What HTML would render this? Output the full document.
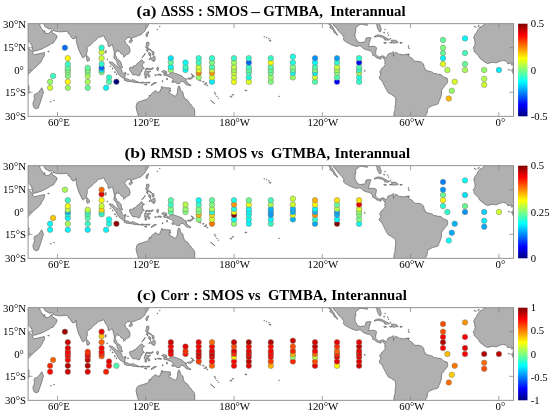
<!DOCTYPE html>
<html><head><meta charset="utf-8"><title>SMOS vs GTMBA</title>
<style>
html,body{margin:0;padding:0;background:#fff}
svg{display:block}
text{font-family:"Liberation Serif","Times New Roman",serif;fill:#000}
circle{stroke:#7a7a6a;stroke-width:0.5}
</style></head><body>
<svg width="550" height="416" viewBox="0 0 550 416">
<defs>
<linearGradient id="jet" x1="0" y1="0" x2="0" y2="1"><stop offset="0.0000" stop-color="#800000"/><stop offset="0.0312" stop-color="#9f0000"/><stop offset="0.0625" stop-color="#bf0000"/><stop offset="0.0938" stop-color="#df0000"/><stop offset="0.1250" stop-color="#ff0000"/><stop offset="0.1562" stop-color="#ff2000"/><stop offset="0.1875" stop-color="#ff4000"/><stop offset="0.2188" stop-color="#ff6000"/><stop offset="0.2500" stop-color="#ff8000"/><stop offset="0.2812" stop-color="#ff9f00"/><stop offset="0.3125" stop-color="#ffbf00"/><stop offset="0.3438" stop-color="#ffdf00"/><stop offset="0.3750" stop-color="#ffff00"/><stop offset="0.4062" stop-color="#dfff20"/><stop offset="0.4375" stop-color="#bfff40"/><stop offset="0.4688" stop-color="#9fff60"/><stop offset="0.5000" stop-color="#80ff80"/><stop offset="0.5312" stop-color="#60ff9f"/><stop offset="0.5625" stop-color="#40ffbf"/><stop offset="0.5938" stop-color="#20ffdf"/><stop offset="0.6250" stop-color="#00ffff"/><stop offset="0.6562" stop-color="#00dfff"/><stop offset="0.6875" stop-color="#00bfff"/><stop offset="0.7188" stop-color="#009fff"/><stop offset="0.7500" stop-color="#0080ff"/><stop offset="0.7812" stop-color="#0060ff"/><stop offset="0.8125" stop-color="#0040ff"/><stop offset="0.8438" stop-color="#0020ff"/><stop offset="0.8750" stop-color="#0000ff"/><stop offset="0.9062" stop-color="#0000df"/><stop offset="0.9375" stop-color="#0000bf"/><stop offset="0.9688" stop-color="#00009f"/><stop offset="1.0000" stop-color="#000080"/></linearGradient>
<clipPath id="mapclip"><rect x="28.08" y="23.70" width="485.50" height="92.60"/></clipPath>
<g id="land" clip-path="url(#mapclip)" fill="#b0b0b0" stroke="#5a5a5a" stroke-width="0.65" stroke-linejoin="round">
<path d="M25.1,20.3 L39.7,20.3 L39.7,23.7 L40.1,26.1 L41.3,28.4 L42.6,29.7 L43.1,31.0 L44.0,32.3 L44.3,30.4 L45.1,32.0 L44.9,33.1 L46.5,33.5 L48.7,33.3 L50.9,31.2 L52.1,29.9 L52.2,32.0 L52.8,33.3 L55.3,34.3 L57.2,36.0 L56.0,39.2 L54.3,41.5 L53.4,43.1 L50.9,43.8 L50.1,44.6 L46.0,46.8 L41.3,49.2 L35.4,51.0 L33.2,51.2 L32.8,50.0 L32.2,47.7 L31.8,45.4 L30.3,43.1 L28.8,41.5 L28.1,41.1 L25.1,41.1Z"/>
<path d="M25.1,47.2 L28.1,47.7 L29.8,49.2 L31.6,50.4 L32.6,51.3 L32.9,52.5 L32.2,53.0 L32.9,53.3 L34.0,54.5 L35.4,54.6 L37.6,54.0 L39.8,53.4 L42.1,53.1 L44.4,52.4 L44.6,54.5 L44.0,56.3 L42.8,58.2 L41.3,61.2 L39.8,63.4 L37.6,65.6 L35.4,67.4 L33.2,69.3 L31.0,71.5 L29.8,72.9 L28.5,74.0 L28.1,74.7 L25.1,74.7Z"/>
<path d="M25.1,85.2 L28.1,85.2 L29.0,86.3 L29.0,90.8 L29.3,92.3 L28.4,93.9 L28.1,94.3 L25.1,94.3Z"/>
<path d="M41.8,87.8 L42.8,90.0 L43.5,93.1 L42.5,94.6 L42.1,96.9 L41.3,99.3 L40.3,102.4 L39.1,105.6 L38.4,108.0 L36.2,108.8 L34.3,108.0 L33.2,105.6 L32.9,103.2 L34.0,100.8 L34.4,98.5 L34.0,96.2 L34.7,94.2 L36.9,93.4 L38.7,92.0 L39.8,90.5 L41.0,88.5Z"/>
<path d="M40.7,20.3 L41.2,23.2 L43.1,23.4 L44.3,25.1 L45.4,27.1 L46.9,27.7 L49.0,29.1 L50.9,29.1 L52.4,28.6 L53.2,29.4 L53.5,30.7 L56.0,31.3 L59.7,31.8 L62.7,31.7 L64.9,31.5 L67.1,31.3 L67.8,32.3 L68.5,33.9 L69.7,34.4 L71.0,36.2 L70.7,36.5 L72.2,38.4 L73.7,38.9 L75.5,37.9 L76.0,36.5 L76.3,38.1 L76.3,40.0 L76.3,41.5 L77.1,44.6 L77.8,46.9 L78.8,50.0 L79.9,52.2 L81.3,55.2 L82.2,57.2 L83.2,58.0 L84.3,57.0 L85.5,56.3 L86.6,54.8 L86.6,53.0 L87.4,50.6 L87.1,47.7 L88.1,46.5 L90.3,45.2 L92.1,43.4 L94.3,41.1 L96.5,39.6 L97.2,38.4 L98.7,37.3 L100.2,37.1 L102.4,36.3 L103.8,36.0 L104.3,36.3 L105.0,38.7 L106.1,40.3 L107.5,42.3 L108.1,44.6 L108.0,46.1 L109.4,46.5 L111.2,45.4 L112.2,44.6 L112.8,46.1 L113.1,47.7 L113.7,50.0 L114.3,52.2 L114.3,54.5 L113.9,56.7 L113.9,58.2 L114.9,58.9 L115.9,60.0 L116.8,61.2 L116.9,62.6 L117.5,64.1 L118.3,65.6 L119.0,66.5 L120.0,67.1 L121.4,67.9 L122.4,67.9 L122.5,67.1 L121.5,65.6 L121.4,63.8 L120.9,62.2 L119.7,60.9 L118.9,60.0 L117.8,59.7 L117.1,58.9 L116.6,57.4 L116.2,56.3 L115.3,55.2 L115.2,53.7 L116.1,52.2 L116.4,50.4 L117.1,50.0 L117.8,50.3 L117.8,51.3 L119.3,51.6 L120.5,52.5 L121.2,54.0 L122.7,54.5 L123.4,54.9 L123.7,56.7 L123.4,57.3 L124.4,56.7 L125.9,55.5 L126.4,54.6 L127.4,54.3 L129.3,53.3 L130.0,51.5 L130.0,50.0 L129.6,48.0 L129.2,46.9 L128.4,45.8 L127.1,44.6 L125.9,43.4 L125.2,41.8 L124.7,40.7 L125.9,39.5 L126.7,38.4 L128.1,37.4 L129.6,37.4 L130.5,37.6 L130.8,39.3 L131.5,39.5 L131.8,38.1 L133.3,37.4 L135.5,36.8 L136.9,36.2 L138.4,35.5 L140.6,34.9 L142.1,33.6 L143.6,32.3 L144.7,31.2 L145.5,29.5 L146.5,27.9 L147.7,26.6 L148.4,24.9 L148.7,23.7 L148.7,20.3Z"/>
<path d="M129.2,41.2 L130.3,40.0 L132.1,39.8 L132.5,40.6 L131.7,42.0 L130.3,42.8 L129.2,42.3Z"/>
<path d="M86.8,55.5 L87.4,56.0 L88.7,57.4 L89.6,58.9 L89.4,60.4 L88.4,61.0 L87.2,61.2 L86.8,60.0 L86.6,58.2Z"/>
<path d="M148.0,31.5 L148.7,32.0 L148.1,33.6 L147.2,36.0 L147.0,37.0 L146.2,36.0 L145.9,34.4 L147.0,32.5Z"/>
<path d="M109.4,61.7 L111.2,62.2 L112.7,62.3 L113.9,63.8 L115.2,64.8 L116.8,66.2 L118.3,67.1 L119.6,68.1 L120.8,68.8 L121.8,70.0 L121.9,71.5 L123.0,72.6 L123.7,73.4 L125.2,74.4 L125.0,76.2 L124.9,78.5 L124.0,78.5 L123.0,78.1 L121.5,77.1 L119.7,75.7 L118.6,74.1 L117.5,72.9 L116.8,71.3 L116.1,70.0 L114.9,68.5 L114.4,67.4 L113.1,66.3 L112.2,65.1 L110.9,64.3 L109.7,62.9Z"/>
<path d="M124.0,80.0 L125.2,78.7 L126.7,78.7 L128.6,79.3 L129.3,80.0 L131.8,80.2 L132.4,79.4 L133.3,79.9 L134.9,80.2 L135.5,81.2 L137.5,81.5 L137.7,82.8 L136.2,82.4 L134.7,82.4 L132.5,82.1 L130.3,81.4 L128.9,81.5 L127.4,81.4 L125.9,80.9Z"/>
<path d="M137.7,82.0 L139.4,82.3 L138.7,83.0 L137.8,82.6Z"/>
<path d="M139.9,82.3 L140.9,82.4 L140.6,83.1 L139.9,83.0Z"/>
<path d="M141.1,82.4 L142.5,82.0 L143.3,82.3 L144.5,82.3 L144.3,83.0 L142.8,83.1 L141.4,83.3Z"/>
<path d="M145.5,82.4 L147.2,82.4 L149.9,82.1 L150.2,82.4 L149.2,83.0 L147.2,83.1 L145.8,83.0Z"/>
<path d="M144.3,84.0 L145.8,83.9 L147.0,84.8 L146.1,85.2 L144.6,84.5Z"/>
<path d="M150.9,85.2 L152.4,83.7 L153.9,82.8 L156.1,82.4 L156.5,82.6 L155.3,83.4 L153.6,84.3 L152.1,85.2 L151.1,85.4Z"/>
<path d="M129.6,67.8 L130.5,67.1 L131.5,67.5 L132.8,67.8 L133.0,66.3 L135.2,65.6 L136.5,64.6 L137.7,62.9 L139.2,62.2 L140.2,60.7 L141.1,59.7 L142.4,60.4 L142.4,61.3 L144.6,62.2 L143.1,63.4 L142.2,64.1 L142.5,65.6 L142.8,66.8 L144.3,68.5 L142.8,68.8 L142.1,70.0 L142.0,71.2 L140.8,72.2 L140.3,73.7 L139.9,75.3 L138.0,76.0 L136.9,75.0 L135.5,74.7 L134.0,75.0 L132.5,74.4 L131.4,72.9 L131.1,71.8 L129.9,70.7 L129.6,69.3Z"/>
<path d="M145.8,68.8 L147.0,68.1 L148.7,68.5 L150.9,68.7 L152.8,67.6 L153.4,67.9 L152.4,69.3 L150.6,69.6 L148.0,69.3 L146.2,69.4 L145.9,70.7 L147.0,71.9 L148.0,71.3 L149.5,71.2 L150.8,71.3 L150.2,71.9 L148.4,72.6 L148.0,72.9 L149.0,74.4 L149.9,75.9 L150.0,76.6 L148.7,77.1 L148.0,76.6 L148.1,75.9 L147.2,74.4 L147.1,74.0 L146.2,74.4 L146.4,75.9 L146.4,78.1 L145.0,78.1 L145.0,76.6 L145.0,75.2 L144.0,74.1 L144.6,72.9 L144.7,71.8 L145.5,70.3Z"/>
<path d="M146.7,42.3 L147.2,42.1 L149.0,42.5 L149.0,44.6 L148.1,46.1 L148.0,47.7 L148.3,48.9 L149.5,48.9 L150.6,49.5 L151.7,50.7 L151.8,51.3 L150.9,50.9 L149.9,50.0 L148.4,49.7 L147.1,49.7 L146.7,48.7 L147.1,48.3 L146.2,48.0 L145.6,46.5 L146.2,45.8 L146.4,43.8Z"/>
<path d="M146.4,50.1 L147.5,50.1 L148.0,51.5 L147.4,51.9 L147.0,51.2Z"/>
<path d="M152.1,51.5 L153.6,51.5 L154.2,53.4 L153.4,54.9 L152.8,55.2 L152.4,53.9 L152.2,53.0Z"/>
<path d="M148.7,52.5 L150.3,53.0 L150.9,54.5 L150.5,56.6 L149.6,56.0 L149.3,54.5 L148.7,54.5 L148.6,53.0Z"/>
<path d="M148.9,59.8 L149.5,58.5 L150.6,57.4 L151.4,57.9 L152.4,57.3 L153.6,56.7 L153.9,55.5 L155.0,56.7 L155.3,58.9 L154.9,60.7 L154.0,61.2 L153.7,61.7 L153.6,60.4 L152.4,60.9 L151.7,60.0 L152.0,59.1 L150.8,59.1 L149.9,59.2Z"/>
<path d="M141.7,57.6 L142.8,56.4 L144.3,54.6 L145.2,53.3 L144.9,54.5 L143.6,56.3 L142.1,57.6Z"/>
<path d="M156.7,68.5 L157.5,66.9 L158.4,67.8 L158.6,69.3 L157.5,69.4 L158.1,71.2 L157.3,70.4 L156.8,69.6Z"/>
<path d="M157.5,74.4 L159.8,74.1 L161.7,74.7 L161.2,75.4 L159.0,75.0 L157.7,75.0Z"/>
<path d="M154.8,74.7 L156.2,74.7 L156.4,75.4 L155.0,75.6Z"/>
<path d="M162.0,71.2 L164.0,70.6 L165.6,71.0 L166.7,71.5 L166.7,73.4 L167.4,74.7 L168.6,74.9 L169.8,73.4 L171.5,72.4 L173.4,72.8 L175.2,73.4 L177.1,74.0 L178.9,74.7 L181.1,75.6 L182.6,76.5 L183.7,77.8 L185.2,78.7 L186.2,78.8 L186.8,79.9 L185.8,80.2 L185.9,81.1 L187.3,82.1 L188.1,83.3 L189.6,84.5 L191.1,85.2 L190.2,85.8 L188.4,85.2 L186.7,84.9 L185.2,83.7 L184.0,82.1 L182.3,81.4 L181.1,81.5 L180.3,82.3 L180.1,83.3 L178.1,83.6 L176.7,83.4 L175.2,82.1 L173.4,82.3 L172.3,82.4 L171.8,81.1 L173.4,80.3 L173.0,78.8 L171.5,77.7 L169.3,76.8 L167.1,75.9 L165.6,75.4 L164.6,75.9 L163.4,74.3 L164.9,73.7 L166.1,73.2 L164.2,73.2 L162.7,72.2 L161.8,71.9Z"/>
<path d="M187.4,78.3 L188.7,78.1 L190.2,78.1 L191.4,77.4 L192.1,76.2 L193.3,76.2 L193.1,77.4 L192.1,78.3 L191.1,79.1 L189.2,79.3 L187.7,78.8Z"/>
<path d="M191.1,73.8 L192.9,74.9 L194.3,76.6 L194.0,76.9 L192.6,75.2 L191.1,74.3Z"/>
<path d="M196.8,78.1 L198.4,79.6 L198.6,80.2 L197.3,79.3Z"/>
<path d="M138.3,119.7 L138.3,116.3 L137.8,113.8 L136.7,110.5 L136.1,107.2 L136.5,104.5 L137.2,102.9 L139.2,101.6 L141.4,101.0 L144.3,100.0 L147.2,99.3 L149.2,96.9 L149.0,95.4 L150.9,95.8 L151.1,94.3 L152.4,93.1 L153.9,91.6 L155.8,90.7 L157.5,92.0 L159.8,92.2 L160.2,90.0 L161.4,88.4 L163.1,88.1 L164.3,87.3 L166.4,87.8 L168.6,87.8 L170.5,88.1 L170.1,90.0 L169.0,91.6 L169.3,93.1 L171.5,94.2 L173.7,95.4 L175.2,96.3 L176.7,94.6 L177.4,92.3 L177.6,90.0 L177.8,88.2 L178.4,86.3 L179.0,85.8 L180.1,87.5 L180.5,90.0 L181.8,91.3 L183.0,92.3 L183.3,94.6 L184.0,96.9 L184.8,98.5 L186.7,99.6 L188.1,100.7 L189.2,102.9 L190.6,104.0 L191.4,105.6 L193.6,107.7 L194.6,109.6 L194.8,112.9 L194.6,116.3 L194.6,119.7Z"/>
<path d="M160.9,86.9 L162.7,86.7 L162.5,87.5 L161.2,87.5Z"/>
<path d="M169.9,90.5 L170.6,90.5 L170.6,91.3 L169.9,91.3Z"/>
<path d="M166.7,78.1 L167.5,78.5 L167.3,80.0 L166.5,79.6Z"/>
<path d="M162.4,80.6 L163.1,80.8 L162.8,81.8 L162.1,81.7Z"/>
<path d="M326.7,20.3 L328.2,22.8 L328.5,23.7 L329.8,25.4 L330.9,26.6 L329.5,27.3 L330.7,28.2 L331.9,29.2 L333.6,30.4 L333.8,32.3 L335.6,33.6 L336.6,34.7 L337.2,35.4 L337.8,34.7 L337.0,33.6 L336.3,33.1 L335.6,32.0 L334.7,30.4 L333.9,29.1 L333.2,27.9 L332.5,26.6 L331.4,25.4 L330.4,24.0 L329.8,22.8 L329.5,21.1 L329.5,20.3Z"/>
<path d="M331.1,20.3 L332.5,21.6 L332.9,23.7 L333.8,25.4 L334.8,26.6 L335.7,27.2 L337.3,29.2 L338.4,31.0 L340.0,32.5 L342.3,34.9 L343.5,36.8 L343.9,37.6 L343.4,39.3 L344.4,40.9 L345.4,41.5 L347.3,42.8 L348.5,43.2 L350.3,44.3 L351.9,44.9 L354.0,45.7 L356.9,46.6 L358.8,45.8 L360.6,46.1 L362.0,47.2 L363.1,48.4 L365.0,49.3 L367.2,50.1 L369.4,50.4 L370.1,50.7 L370.9,51.6 L372.3,53.1 L372.6,53.7 L372.6,55.2 L373.8,55.7 L375.3,56.3 L375.9,57.4 L376.8,57.9 L378.2,58.2 L380.4,59.2 L381.2,58.9 L381.2,57.7 L381.9,56.9 L383.8,57.7 L383.5,58.8 L384.4,59.4 L385.0,60.9 L384.8,63.4 L385.3,64.4 L384.1,66.2 L382.9,67.4 L382.6,68.2 L381.2,68.8 L381.0,70.0 L380.4,70.6 L379.8,71.5 L380.0,73.2 L381.3,73.7 L380.7,75.0 L379.3,76.9 L379.5,78.8 L381.3,80.2 L382.6,82.1 L383.8,84.8 L385.4,87.8 L386.8,90.5 L388.2,92.8 L391.5,94.6 L393.8,96.2 L395.4,97.5 L395.7,100.0 L395.6,103.2 L395.1,106.4 L395.0,109.6 L394.0,112.9 L393.8,116.3 L393.8,119.7 L425.0,119.7 L425.0,116.3 L426.8,113.8 L427.4,111.3 L427.4,109.3 L429.0,107.4 L430.7,106.4 L432.7,105.6 L435.3,104.8 L437.1,104.6 L438.5,103.2 L438.8,101.6 L439.7,100.0 L440.5,97.7 L441.3,95.4 L441.5,93.1 L441.5,90.8 L442.2,89.3 L443.7,87.5 L444.4,86.1 L445.9,84.8 L447.1,83.3 L447.5,81.8 L447.7,80.3 L447.1,78.1 L445.2,77.5 L443.7,76.9 L442.2,75.4 L440.0,74.3 L437.8,74.3 L435.6,73.5 L433.7,73.7 L432.7,72.2 L430.5,71.5 L428.2,71.0 L425.3,70.0 L425.3,68.7 L424.1,67.1 L423.7,64.1 L422.4,62.9 L420.9,61.9 L418.7,61.3 L416.5,61.3 L414.7,61.2 L413.5,60.0 L412.1,58.2 L409.9,57.3 L408.4,55.5 L407.6,54.3 L406.2,54.2 L404.3,54.6 L402.5,54.9 L401.8,54.3 L399.6,54.5 L398.4,53.9 L398.1,53.4 L396.2,53.0 L395.9,51.9 L395.4,52.8 L394.4,53.7 L393.7,54.0 L393.1,53.3 L394.0,52.2 L393.4,51.5 L392.2,52.5 L390.7,53.3 L389.7,53.3 L388.7,53.6 L387.8,54.5 L387.5,56.0 L386.3,57.0 L385.7,58.2 L385.1,57.3 L384.3,56.3 L383.4,56.0 L381.9,55.8 L381.2,56.4 L379.7,57.0 L378.5,56.7 L377.8,56.4 L377.0,55.7 L376.0,54.5 L375.7,53.7 L375.7,52.2 L376.0,50.7 L376.3,49.2 L376.5,47.7 L375.3,46.8 L373.8,46.3 L372.3,46.3 L370.1,46.5 L369.0,46.6 L368.1,46.3 L369.0,45.1 L369.1,43.8 L369.4,42.3 L370.0,40.7 L370.3,39.5 L371.2,38.1 L370.1,37.6 L368.7,37.6 L366.0,38.1 L365.7,40.0 L365.4,41.1 L364.2,42.1 L362.8,42.1 L360.6,42.6 L359.4,42.3 L357.9,41.8 L357.3,41.1 L356.9,40.0 L355.7,38.4 L355.0,36.3 L355.1,33.6 L355.9,30.5 L355.6,28.7 L356.2,27.1 L358.4,25.7 L359.5,24.7 L360.9,24.2 L362.8,24.4 L364.2,24.7 L365.7,25.1 L367.3,25.4 L367.2,23.7 L367.5,23.2 L367.5,20.3Z"/>
<path d="M375.9,20.3 L375.9,23.9 L377.0,25.6 L377.2,27.4 L378.1,29.4 L378.7,30.5 L379.5,31.8 L380.6,31.7 L381.0,30.5 L381.2,28.9 L380.4,26.9 L380.3,26.1 L379.7,24.7 L379.1,23.2 L379.1,20.3Z"/>
<path d="M374.0,37.0 L375.3,35.7 L376.8,35.2 L378.2,34.9 L380.4,35.1 L381.9,35.7 L383.4,36.2 L384.8,37.1 L386.3,37.9 L387.8,38.7 L389.7,39.5 L389.3,40.0 L387.8,40.1 L385.6,40.1 L384.6,40.1 L385.3,39.0 L383.8,38.7 L383.4,37.6 L381.2,37.1 L379.7,36.7 L378.2,36.2 L376.8,36.5 L375.3,37.1Z"/>
<path d="M389.4,42.5 L392.2,42.3 L391.8,41.1 L390.9,40.3 L393.4,40.1 L396.0,40.4 L398.2,42.1 L397.8,42.8 L395.1,42.8 L393.8,43.5 L392.9,42.8 L390.3,43.0Z"/>
<path d="M383.7,42.6 L384.8,42.3 L386.6,42.9 L385.9,43.2 L384.4,43.4Z"/>
<path d="M400.0,42.4 L402.2,42.5 L402.1,43.1 L400.0,43.2Z"/>
<path d="M407.8,54.2 L409.3,54.0 L409.1,55.1 L407.8,55.1Z"/>
<path d="M484.4,20.3 L484.6,23.7 L483.9,25.1 L482.4,25.9 L479.9,27.2 L479.0,28.7 L477.5,30.0 L476.8,32.3 L475.3,34.1 L474.0,36.5 L473.8,38.5 L474.9,40.0 L474.6,41.5 L475.2,43.1 L474.6,45.8 L473.1,48.1 L474.1,49.5 L474.1,51.5 L474.9,52.2 L476.1,53.3 L476.8,54.0 L477.5,54.9 L478.7,56.0 L479.4,57.4 L480.5,58.9 L481.9,59.8 L483.0,60.7 L484.9,62.2 L487.5,63.5 L490.0,62.9 L492.2,62.3 L494.5,62.5 L495.9,63.0 L497.4,62.3 L498.9,61.7 L500.6,61.0 L502.5,60.6 L503.9,60.6 L505.5,60.9 L506.2,61.5 L507.0,62.6 L507.7,63.7 L509.2,63.5 L510.6,63.4 L511.4,63.1 L512.0,63.4 L512.1,64.1 L513.1,64.4 L513.1,65.6 L513.3,66.6 L513.0,68.4 L512.8,69.3 L512.5,70.0 L511.8,71.0 L512.5,72.2 L513.0,73.5 L513.6,74.4 L516.5,74.4 L516.5,20.3Z"/>
<ellipse cx="48.5" cy="51.5" rx="0.88" ry="0.35"/>
<ellipse cx="50.9" cy="101.8" rx="0.44" ry="0.37"/>
<ellipse cx="54.0" cy="100.5" rx="0.44" ry="0.37"/>
<ellipse cx="105.8" cy="51.8" rx="0.35" ry="1.47"/>
<ellipse cx="107.2" cy="59.4" rx="0.35" ry="0.59"/>
<ellipse cx="110.5" cy="66.2" rx="0.59" ry="0.35"/>
<ellipse cx="112.7" cy="68.4" rx="0.44" ry="0.59"/>
<ellipse cx="114.9" cy="72.2" rx="0.44" ry="0.74"/>
<ellipse cx="116.6" cy="74.3" rx="0.37" ry="0.59"/>
<ellipse cx="125.3" cy="73.2" rx="0.74" ry="0.88"/>
<ellipse cx="128.0" cy="74.3" rx="0.59" ry="0.44"/>
<ellipse cx="157.4" cy="29.5" rx="0.35" ry="0.44"/>
<ellipse cx="159.8" cy="26.6" rx="0.35" ry="0.35"/>
<ellipse cx="200.2" cy="80.8" rx="0.74" ry="0.37"/>
<ellipse cx="203.3" cy="81.8" rx="0.88" ry="0.37"/>
<ellipse cx="204.9" cy="84.2" rx="0.88" ry="0.37"/>
<ellipse cx="206.1" cy="83.3" rx="0.37" ry="0.88"/>
<ellipse cx="207.3" cy="85.5" rx="0.74" ry="0.35"/>
<ellipse cx="214.8" cy="92.8" rx="0.44" ry="0.59"/>
<ellipse cx="215.7" cy="94.3" rx="0.37" ry="0.44"/>
<ellipse cx="217.0" cy="96.5" rx="0.35" ry="0.35"/>
<ellipse cx="218.3" cy="98.2" rx="0.35" ry="0.35"/>
<ellipse cx="231.0" cy="96.6" rx="0.88" ry="0.59"/>
<ellipse cx="232.9" cy="94.8" rx="0.88" ry="0.35"/>
<ellipse cx="245.4" cy="90.3" rx="0.59" ry="0.35"/>
<ellipse cx="246.3" cy="90.7" rx="0.44" ry="0.35"/>
<ellipse cx="270.1" cy="40.6" rx="0.74" ry="0.74"/>
<ellipse cx="268.9" cy="38.7" rx="0.44" ry="0.35"/>
<ellipse cx="266.4" cy="37.6" rx="0.37" ry="0.35"/>
<ellipse cx="264.2" cy="36.8" rx="0.35" ry="0.35"/>
<ellipse cx="279.1" cy="96.3" rx="0.37" ry="0.35"/>
<ellipse cx="364.8" cy="70.9" rx="0.44" ry="0.59"/>
<ellipse cx="384.1" cy="32.6" rx="0.37" ry="0.74"/>
<ellipse cx="385.1" cy="29.5" rx="0.44" ry="0.35"/>
<ellipse cx="387.8" cy="33.1" rx="0.35" ry="0.44"/>
<ellipse cx="390.7" cy="38.4" rx="0.44" ry="0.35"/>
<ellipse cx="388.5" cy="35.2" rx="0.35" ry="0.44"/>
<ellipse cx="408.4" cy="45.8" rx="0.35" ry="0.35"/>
<ellipse cx="409.1" cy="48.3" rx="0.35" ry="0.37"/>
<ellipse cx="408.5" cy="47.1" rx="0.35" ry="0.35"/>
<ellipse cx="474.4" cy="26.6" rx="0.44" ry="0.35"/>
<ellipse cx="475.9" cy="27.1" rx="0.37" ry="0.35"/>
<ellipse cx="478.3" cy="26.4" rx="0.35" ry="0.51"/>
<ellipse cx="478.9" cy="25.4" rx="0.35" ry="0.35"/>
<ellipse cx="511.7" cy="64.8" rx="0.35" ry="0.44"/>
<ellipse cx="508.6" cy="69.6" rx="0.35" ry="0.35"/>
<path d="M210.5,100.2 L214.8,103.7" stroke-width="1"/>
<path d="M393.7,54.2 L393.5,56.4" stroke-width="0.9"/>
</g>
</defs>
<rect width="550" height="416" fill="#fff"/>
<g stroke="none" stroke-width="0" class="p">
<g transform="translate(0,0)">
<g font-weight="bold" font-size="14.6">
<text x="136.6" y="15.9" textLength="20.0" lengthAdjust="spacingAndGlyphs">(a)</text>
<text x="161.2" y="15.9" textLength="32.9" lengthAdjust="spacingAndGlyphs">ΔSSS</text>
<text x="200.5" y="15.9" text-anchor="middle">:</text>
<text x="206.7" y="15.9" textLength="41.6" lengthAdjust="spacingAndGlyphs">SMOS</text>
<text x="251.2" y="15.9" textLength="8.7" lengthAdjust="spacingAndGlyphs">–</text>
<text x="263.3" y="15.9" textLength="59.7" lengthAdjust="spacingAndGlyphs">GTMBA,</text>
<text x="330.2" y="15.9" textLength="75.4" lengthAdjust="spacingAndGlyphs">Interannual</text>
</g>
<use href="#land"/>
<rect x="28.08" y="23.70" width="485.50" height="92.60" fill="none" stroke="#808080" stroke-width="0.85"/>
<path d="M57.50,116.30 v-4.5 M57.50,23.70 v4.5 M145.78,116.30 v-4.5 M145.78,23.70 v4.5 M234.05,116.30 v-4.5 M234.05,23.70 v4.5 M322.32,116.30 v-4.5 M322.32,23.70 v4.5 M410.59,116.30 v-4.5 M410.59,23.70 v4.5 M498.86,116.30 v-4.5 M498.86,23.70 v4.5 M28.08,47.68 h4.5 M513.58,47.68 h-4.5 M28.08,70.00 h4.5 M513.58,70.00 h-4.5 M28.08,92.32 h4.5 M513.58,92.32 h-4.5" fill="none" stroke="#808080" stroke-width="0.7"/>
<circle cx="50.1" cy="87.8" r="2.75" fill="#d1ff2e"/>
<circle cx="50.1" cy="81.8" r="2.75" fill="#94ff6b"/>
<circle cx="53.1" cy="75.9" r="2.75" fill="#38ffc7"/>
<circle cx="64.9" cy="47.7" r="2.75" fill="#006bff"/>
<circle cx="67.8" cy="87.8" r="2.75" fill="#9eff61"/>
<circle cx="67.8" cy="81.8" r="2.75" fill="#fffa00"/>
<circle cx="67.8" cy="75.9" r="2.75" fill="#80ff80"/>
<circle cx="67.8" cy="72.2" r="2.75" fill="#80ff80"/>
<circle cx="67.8" cy="70.0" r="2.75" fill="#80ff80"/>
<circle cx="67.8" cy="67.8" r="2.75" fill="#61ff9e"/>
<circle cx="67.8" cy="64.1" r="2.75" fill="#38ffc7"/>
<circle cx="67.8" cy="58.2" r="2.75" fill="#fffa00"/>
<circle cx="87.7" cy="87.8" r="2.75" fill="#61ff9e"/>
<circle cx="87.7" cy="81.8" r="2.75" fill="#a8ff57"/>
<circle cx="87.7" cy="75.9" r="2.75" fill="#a8ff57"/>
<circle cx="87.7" cy="72.2" r="2.75" fill="#80ff80"/>
<circle cx="87.7" cy="70.0" r="2.75" fill="#80ff80"/>
<circle cx="87.7" cy="67.8" r="2.75" fill="#61ff9e"/>
<circle cx="101.6" cy="72.2" r="2.75" fill="#80ff80"/>
<circle cx="101.6" cy="70.0" r="2.75" fill="#00e5ff"/>
<circle cx="101.6" cy="67.8" r="2.75" fill="#0061ff"/>
<circle cx="101.6" cy="64.1" r="2.75" fill="#2effd1"/>
<circle cx="101.6" cy="58.2" r="2.75" fill="#c7ff38"/>
<circle cx="101.6" cy="52.2" r="2.75" fill="#d1ff2e"/>
<circle cx="101.6" cy="47.7" r="2.75" fill="#2effd1"/>
<circle cx="106.1" cy="87.8" r="2.75" fill="#00faff"/>
<circle cx="109.0" cy="81.8" r="2.75" fill="#4dffb2"/>
<circle cx="109.0" cy="77.4" r="2.75" fill="#2effd1"/>
<circle cx="116.4" cy="81.8" r="2.75" fill="#000080"/>
<circle cx="170.8" cy="70.0" r="2.75" fill="#94ff6b"/>
<circle cx="170.8" cy="67.1" r="2.75" fill="#00faff"/>
<circle cx="170.8" cy="62.6" r="2.75" fill="#61ff9e"/>
<circle cx="170.8" cy="58.2" r="2.75" fill="#00e5ff"/>
<circle cx="185.5" cy="70.0" r="2.75" fill="#05fffa"/>
<circle cx="185.5" cy="67.1" r="2.75" fill="#38ffc7"/>
<circle cx="185.5" cy="62.6" r="2.75" fill="#05fffa"/>
<circle cx="198.7" cy="77.4" r="2.75" fill="#94ff6b"/>
<circle cx="198.7" cy="72.9" r="2.75" fill="#ff8000"/>
<circle cx="198.7" cy="70.0" r="2.75" fill="#e5ff1a"/>
<circle cx="198.7" cy="67.1" r="2.75" fill="#bdff42"/>
<circle cx="198.7" cy="62.6" r="2.75" fill="#38ffc7"/>
<circle cx="198.7" cy="58.2" r="2.75" fill="#2effd1"/>
<circle cx="212.0" cy="81.8" r="2.75" fill="#00f0ff"/>
<circle cx="212.0" cy="77.4" r="2.75" fill="#d1ff2e"/>
<circle cx="212.0" cy="72.9" r="2.75" fill="#ff9400"/>
<circle cx="212.0" cy="70.0" r="2.75" fill="#c7ff38"/>
<circle cx="212.0" cy="67.1" r="2.75" fill="#4dffb2"/>
<circle cx="212.0" cy="62.6" r="2.75" fill="#80ff80"/>
<circle cx="212.0" cy="58.2" r="2.75" fill="#2effd1"/>
<circle cx="234.0" cy="81.8" r="2.75" fill="#f0ff0f"/>
<circle cx="234.0" cy="77.4" r="2.75" fill="#c7ff38"/>
<circle cx="234.0" cy="72.9" r="2.75" fill="#c7ff38"/>
<circle cx="234.0" cy="70.0" r="2.75" fill="#a8ff57"/>
<circle cx="234.0" cy="67.1" r="2.75" fill="#bdff42"/>
<circle cx="234.0" cy="62.6" r="2.75" fill="#9eff61"/>
<circle cx="234.0" cy="58.2" r="2.75" fill="#38ffc7"/>
<circle cx="248.8" cy="81.8" r="2.75" fill="#e5ff1a"/>
<circle cx="248.8" cy="77.4" r="2.75" fill="#1affe5"/>
<circle cx="248.8" cy="72.9" r="2.75" fill="#42ffbd"/>
<circle cx="248.8" cy="70.0" r="2.75" fill="#57ffa8"/>
<circle cx="248.8" cy="67.1" r="2.75" fill="#38ffc7"/>
<circle cx="248.8" cy="62.6" r="2.75" fill="#0061ff"/>
<circle cx="248.8" cy="58.2" r="2.75" fill="#2effd1"/>
<circle cx="270.8" cy="81.8" r="2.75" fill="#80ff80"/>
<circle cx="270.8" cy="77.4" r="2.75" fill="#94ff6b"/>
<circle cx="270.8" cy="72.9" r="2.75" fill="#6bff94"/>
<circle cx="270.8" cy="70.0" r="2.75" fill="#61ff9e"/>
<circle cx="270.8" cy="67.1" r="2.75" fill="#57ffa8"/>
<circle cx="270.8" cy="62.6" r="2.75" fill="#fffa00"/>
<circle cx="270.8" cy="58.2" r="2.75" fill="#38ffc7"/>
<circle cx="292.9" cy="77.4" r="2.75" fill="#94ff6b"/>
<circle cx="292.9" cy="72.9" r="2.75" fill="#05fffa"/>
<circle cx="292.9" cy="70.0" r="2.75" fill="#61ff9e"/>
<circle cx="292.9" cy="67.1" r="2.75" fill="#80ff80"/>
<circle cx="292.9" cy="62.6" r="2.75" fill="#1affe5"/>
<circle cx="292.9" cy="56.7" r="2.75" fill="#1affe5"/>
<circle cx="315.0" cy="81.8" r="2.75" fill="#4dffb2"/>
<circle cx="315.0" cy="77.4" r="2.75" fill="#c7ff38"/>
<circle cx="315.0" cy="72.9" r="2.75" fill="#00f0ff"/>
<circle cx="315.0" cy="70.0" r="2.75" fill="#80ff80"/>
<circle cx="315.0" cy="67.1" r="2.75" fill="#4dffb2"/>
<circle cx="315.0" cy="62.6" r="2.75" fill="#00faff"/>
<circle cx="315.0" cy="58.2" r="2.75" fill="#0094ff"/>
<circle cx="337.0" cy="81.8" r="2.75" fill="#0000fa"/>
<circle cx="337.0" cy="77.4" r="2.75" fill="#4dffb2"/>
<circle cx="337.0" cy="72.9" r="2.75" fill="#80ff80"/>
<circle cx="337.0" cy="70.0" r="2.75" fill="#a8ff57"/>
<circle cx="337.0" cy="67.1" r="2.75" fill="#c7ff38"/>
<circle cx="337.0" cy="62.6" r="2.75" fill="#2effd1"/>
<circle cx="337.0" cy="58.2" r="2.75" fill="#009eff"/>
<circle cx="359.1" cy="81.8" r="2.75" fill="#2effd1"/>
<circle cx="359.1" cy="77.4" r="2.75" fill="#1affe5"/>
<circle cx="359.1" cy="72.9" r="2.75" fill="#a8ff57"/>
<circle cx="359.1" cy="70.0" r="2.75" fill="#2effd1"/>
<circle cx="359.1" cy="67.1" r="2.75" fill="#4dffb2"/>
<circle cx="359.1" cy="62.6" r="2.75" fill="#0000fa"/>
<circle cx="359.1" cy="58.2" r="2.75" fill="#2effd1"/>
<circle cx="443.0" cy="64.1" r="2.75" fill="#e5ff1a"/>
<circle cx="443.0" cy="58.2" r="2.75" fill="#00faff"/>
<circle cx="443.0" cy="53.0" r="2.75" fill="#61ff9e"/>
<circle cx="443.0" cy="47.7" r="2.75" fill="#80ff80"/>
<circle cx="443.0" cy="40.0" r="2.75" fill="#61ff9e"/>
<circle cx="447.4" cy="70.0" r="2.75" fill="#b3ff4c"/>
<circle cx="448.8" cy="98.5" r="2.75" fill="#ffbd00"/>
<circle cx="451.8" cy="90.8" r="2.75" fill="#94ff6b"/>
<circle cx="454.7" cy="81.8" r="2.75" fill="#dbff24"/>
<circle cx="465.0" cy="70.0" r="2.75" fill="#a8ff57"/>
<circle cx="465.0" cy="64.1" r="2.75" fill="#61ff9e"/>
<circle cx="465.0" cy="53.0" r="2.75" fill="#42ffbd"/>
<circle cx="465.0" cy="38.4" r="2.75" fill="#00faff"/>
<circle cx="484.2" cy="84.8" r="2.75" fill="#d1ff2e"/>
<circle cx="484.2" cy="78.8" r="2.75" fill="#b3ff4c"/>
<circle cx="484.2" cy="70.0" r="2.75" fill="#94ff6b"/>
<circle cx="498.9" cy="70.0" r="2.75" fill="#00f0ff"/>
<text x="58.9" y="126.0" text-anchor="middle" font-size="10.8">60°E</text>
<text x="146.3" y="126.0" text-anchor="middle" font-size="10.8">120°E</text>
<text x="234.7" y="126.0" text-anchor="middle" font-size="10.8">180°W</text>
<text x="322.9" y="126.0" text-anchor="middle" font-size="10.8">120°W</text>
<text x="411.9" y="126.0" text-anchor="middle" font-size="10.8">60°W</text>
<text x="500.4" y="126.0" text-anchor="middle" font-size="10.8">0°</text>
<text x="26.0" y="27.8" text-anchor="end" font-size="10.8">30°N</text>
<text x="26.0" y="51.2" text-anchor="end" font-size="10.8">15°N</text>
<text x="23.9" y="73.5" text-anchor="end" font-size="10.8">0°</text>
<text x="26.0" y="96.3" text-anchor="end" font-size="10.8">15°S</text>
<text x="26.0" y="120.0" text-anchor="end" font-size="10.8">30°S</text>
<rect x="518.1" y="23.70" width="9.4" height="92.60" fill="url(#jet)"/>
<text x="530.8" y="27.3" font-size="10.7">0.5</text>
<text x="530.8" y="73.6" font-size="10.7">0</text>
<text x="530.8" y="119.9" font-size="10.7">-0.5</text>
</g>
<g transform="translate(0,142)">
<g font-weight="bold" font-size="14.6">
<text x="124.5" y="15.9" textLength="21.4" lengthAdjust="spacingAndGlyphs">(b)</text>
<text x="150.4" y="15.9" textLength="42.1" lengthAdjust="spacingAndGlyphs">RMSD</text>
<text x="199.3" y="15.9" text-anchor="middle">:</text>
<text x="205.3" y="15.9" textLength="41.8" lengthAdjust="spacingAndGlyphs">SMOS</text>
<text x="251.1" y="15.9" textLength="12.4" lengthAdjust="spacingAndGlyphs">vs</text>
<text x="271.0" y="15.9" textLength="59.1" lengthAdjust="spacingAndGlyphs">GTMBA,</text>
<text x="334.4" y="15.9" textLength="75.7" lengthAdjust="spacingAndGlyphs">Interannual</text>
</g>
<use href="#land"/>
<rect x="28.08" y="23.70" width="485.50" height="92.60" fill="none" stroke="#808080" stroke-width="0.85"/>
<path d="M57.50,116.30 v-4.5 M57.50,23.70 v4.5 M145.78,116.30 v-4.5 M145.78,23.70 v4.5 M234.05,116.30 v-4.5 M234.05,23.70 v4.5 M322.32,116.30 v-4.5 M322.32,23.70 v4.5 M410.59,116.30 v-4.5 M410.59,23.70 v4.5 M498.86,116.30 v-4.5 M498.86,23.70 v4.5 M28.08,47.68 h4.5 M513.58,47.68 h-4.5 M28.08,70.00 h4.5 M513.58,70.00 h-4.5 M28.08,92.32 h4.5 M513.58,92.32 h-4.5" fill="none" stroke="#808080" stroke-width="0.7"/>
<circle cx="50.1" cy="87.8" r="2.75" fill="#00faff"/>
<circle cx="50.1" cy="81.8" r="2.75" fill="#00faff"/>
<circle cx="53.1" cy="75.9" r="2.75" fill="#ffc700"/>
<circle cx="64.9" cy="47.7" r="2.75" fill="#a8ff57"/>
<circle cx="67.8" cy="87.8" r="2.75" fill="#00faff"/>
<circle cx="67.8" cy="81.8" r="2.75" fill="#a8ff57"/>
<circle cx="67.8" cy="75.9" r="2.75" fill="#00faff"/>
<circle cx="67.8" cy="72.2" r="2.75" fill="#1affe5"/>
<circle cx="67.8" cy="70.0" r="2.75" fill="#00b2ff"/>
<circle cx="67.8" cy="67.8" r="2.75" fill="#b3ff4c"/>
<circle cx="67.8" cy="64.1" r="2.75" fill="#f0ff0f"/>
<circle cx="67.8" cy="58.2" r="2.75" fill="#38ffc7"/>
<circle cx="87.7" cy="87.8" r="2.75" fill="#00f0ff"/>
<circle cx="87.7" cy="81.8" r="2.75" fill="#38ffc7"/>
<circle cx="87.7" cy="75.9" r="2.75" fill="#4dffb2"/>
<circle cx="87.7" cy="72.2" r="2.75" fill="#42ffbd"/>
<circle cx="87.7" cy="70.0" r="2.75" fill="#38ffc7"/>
<circle cx="87.7" cy="67.8" r="2.75" fill="#bdff42"/>
<circle cx="101.6" cy="72.2" r="2.75" fill="#2effd1"/>
<circle cx="101.6" cy="70.0" r="2.75" fill="#2effd1"/>
<circle cx="101.6" cy="67.8" r="2.75" fill="#ffdb00"/>
<circle cx="101.6" cy="64.1" r="2.75" fill="#c7ff38"/>
<circle cx="101.6" cy="58.2" r="2.75" fill="#fffa00"/>
<circle cx="101.6" cy="52.2" r="2.75" fill="#e50000"/>
<circle cx="101.6" cy="47.7" r="2.75" fill="#ff6b00"/>
<circle cx="106.1" cy="87.8" r="2.75" fill="#00faff"/>
<circle cx="109.0" cy="81.8" r="2.75" fill="#1affe5"/>
<circle cx="109.0" cy="77.4" r="2.75" fill="#05fffa"/>
<circle cx="116.4" cy="81.8" r="2.75" fill="#940000"/>
<circle cx="170.8" cy="70.0" r="2.75" fill="#57ffa8"/>
<circle cx="170.8" cy="67.1" r="2.75" fill="#80ff80"/>
<circle cx="170.8" cy="62.6" r="2.75" fill="#38ffc7"/>
<circle cx="170.8" cy="58.2" r="2.75" fill="#57ffa8"/>
<circle cx="185.5" cy="70.0" r="2.75" fill="#80ff80"/>
<circle cx="185.5" cy="67.1" r="2.75" fill="#94ff6b"/>
<circle cx="185.5" cy="62.6" r="2.75" fill="#b3ff4c"/>
<circle cx="198.7" cy="77.4" r="2.75" fill="#80ff80"/>
<circle cx="198.7" cy="72.9" r="2.75" fill="#ffb300"/>
<circle cx="198.7" cy="70.0" r="2.75" fill="#80ff80"/>
<circle cx="198.7" cy="67.1" r="2.75" fill="#80ff80"/>
<circle cx="198.7" cy="62.6" r="2.75" fill="#38ffc7"/>
<circle cx="198.7" cy="58.2" r="2.75" fill="#05fffa"/>
<circle cx="212.0" cy="81.8" r="2.75" fill="#ff7500"/>
<circle cx="212.0" cy="77.4" r="2.75" fill="#d1ff2e"/>
<circle cx="212.0" cy="72.9" r="2.75" fill="#ffdb00"/>
<circle cx="212.0" cy="70.0" r="2.75" fill="#1affe5"/>
<circle cx="212.0" cy="67.1" r="2.75" fill="#a8ff57"/>
<circle cx="212.0" cy="62.6" r="2.75" fill="#80ff80"/>
<circle cx="212.0" cy="58.2" r="2.75" fill="#61ff9e"/>
<circle cx="234.0" cy="81.8" r="2.75" fill="#94ff6b"/>
<circle cx="234.0" cy="77.4" r="2.75" fill="#05fffa"/>
<circle cx="234.0" cy="72.9" r="2.75" fill="#800000"/>
<circle cx="234.0" cy="70.0" r="2.75" fill="#fffa00"/>
<circle cx="234.0" cy="67.1" r="2.75" fill="#1affe5"/>
<circle cx="234.0" cy="62.6" r="2.75" fill="#ff9400"/>
<circle cx="234.0" cy="58.2" r="2.75" fill="#1affe5"/>
<circle cx="248.8" cy="81.8" r="2.75" fill="#00faff"/>
<circle cx="248.8" cy="77.4" r="2.75" fill="#05fffa"/>
<circle cx="248.8" cy="72.9" r="2.75" fill="#05fffa"/>
<circle cx="248.8" cy="70.0" r="2.75" fill="#05fffa"/>
<circle cx="248.8" cy="67.1" r="2.75" fill="#05fffa"/>
<circle cx="248.8" cy="62.6" r="2.75" fill="#e5ff1a"/>
<circle cx="248.8" cy="58.2" r="2.75" fill="#6bff94"/>
<circle cx="270.8" cy="81.8" r="2.75" fill="#38ffc7"/>
<circle cx="270.8" cy="77.4" r="2.75" fill="#00faff"/>
<circle cx="270.8" cy="72.9" r="2.75" fill="#009eff"/>
<circle cx="270.8" cy="70.0" r="2.75" fill="#009eff"/>
<circle cx="270.8" cy="67.1" r="2.75" fill="#00b2ff"/>
<circle cx="270.8" cy="62.6" r="2.75" fill="#a8ff57"/>
<circle cx="270.8" cy="58.2" r="2.75" fill="#42ffbd"/>
<circle cx="292.9" cy="77.4" r="2.75" fill="#00b2ff"/>
<circle cx="292.9" cy="72.9" r="2.75" fill="#e5ff1a"/>
<circle cx="292.9" cy="70.0" r="2.75" fill="#00b2ff"/>
<circle cx="292.9" cy="67.1" r="2.75" fill="#00b2ff"/>
<circle cx="292.9" cy="62.6" r="2.75" fill="#d1ff2e"/>
<circle cx="292.9" cy="56.7" r="2.75" fill="#c7ff38"/>
<circle cx="315.0" cy="81.8" r="2.75" fill="#00a8ff"/>
<circle cx="315.0" cy="77.4" r="2.75" fill="#2effd1"/>
<circle cx="315.0" cy="72.9" r="2.75" fill="#ff9400"/>
<circle cx="315.0" cy="70.0" r="2.75" fill="#00b2ff"/>
<circle cx="315.0" cy="67.1" r="2.75" fill="#00faff"/>
<circle cx="315.0" cy="62.6" r="2.75" fill="#fffa00"/>
<circle cx="315.0" cy="58.2" r="2.75" fill="#ffb300"/>
<circle cx="337.0" cy="81.8" r="2.75" fill="#800000"/>
<circle cx="337.0" cy="77.4" r="2.75" fill="#00faff"/>
<circle cx="337.0" cy="72.9" r="2.75" fill="#00b2ff"/>
<circle cx="337.0" cy="70.0" r="2.75" fill="#009eff"/>
<circle cx="337.0" cy="67.1" r="2.75" fill="#b3ff4c"/>
<circle cx="337.0" cy="62.6" r="2.75" fill="#61ff9e"/>
<circle cx="337.0" cy="58.2" r="2.75" fill="#ffe500"/>
<circle cx="359.1" cy="81.8" r="2.75" fill="#05fffa"/>
<circle cx="359.1" cy="77.4" r="2.75" fill="#80ff80"/>
<circle cx="359.1" cy="72.9" r="2.75" fill="#80ff80"/>
<circle cx="359.1" cy="70.0" r="2.75" fill="#94ff6b"/>
<circle cx="359.1" cy="67.1" r="2.75" fill="#d1ff2e"/>
<circle cx="359.1" cy="62.6" r="2.75" fill="#e50000"/>
<circle cx="359.1" cy="58.2" r="2.75" fill="#ffe500"/>
<circle cx="443.0" cy="64.1" r="2.75" fill="#2effd1"/>
<circle cx="443.0" cy="58.2" r="2.75" fill="#fffa00"/>
<circle cx="443.0" cy="53.0" r="2.75" fill="#6bff94"/>
<circle cx="443.0" cy="47.7" r="2.75" fill="#0094ff"/>
<circle cx="443.0" cy="40.0" r="2.75" fill="#0080ff"/>
<circle cx="447.4" cy="70.0" r="2.75" fill="#2effd1"/>
<circle cx="448.8" cy="98.5" r="2.75" fill="#05fffa"/>
<circle cx="451.8" cy="90.8" r="2.75" fill="#00a8ff"/>
<circle cx="454.7" cy="81.8" r="2.75" fill="#00b2ff"/>
<circle cx="465.0" cy="70.0" r="2.75" fill="#0094ff"/>
<circle cx="465.0" cy="64.1" r="2.75" fill="#6bff94"/>
<circle cx="465.0" cy="53.0" r="2.75" fill="#00e5ff"/>
<circle cx="465.0" cy="38.4" r="2.75" fill="#05fffa"/>
<circle cx="484.2" cy="84.8" r="2.75" fill="#00a8ff"/>
<circle cx="484.2" cy="78.8" r="2.75" fill="#00f0ff"/>
<circle cx="484.2" cy="70.0" r="2.75" fill="#00d1ff"/>
<circle cx="498.9" cy="70.0" r="2.75" fill="#d1ff2e"/>
<text x="58.9" y="126.0" text-anchor="middle" font-size="10.8">60°E</text>
<text x="146.3" y="126.0" text-anchor="middle" font-size="10.8">120°E</text>
<text x="234.7" y="126.0" text-anchor="middle" font-size="10.8">180°W</text>
<text x="322.9" y="126.0" text-anchor="middle" font-size="10.8">120°W</text>
<text x="411.9" y="126.0" text-anchor="middle" font-size="10.8">60°W</text>
<text x="500.4" y="126.0" text-anchor="middle" font-size="10.8">0°</text>
<text x="26.0" y="27.8" text-anchor="end" font-size="10.8">30°N</text>
<text x="26.0" y="51.2" text-anchor="end" font-size="10.8">15°N</text>
<text x="23.9" y="73.5" text-anchor="end" font-size="10.8">0°</text>
<text x="26.0" y="96.3" text-anchor="end" font-size="10.8">15°S</text>
<text x="26.0" y="120.0" text-anchor="end" font-size="10.8">30°S</text>
<rect x="518.1" y="23.70" width="9.4" height="92.60" fill="url(#jet)"/>
<text x="530.8" y="27.3" font-size="10.7">0.5</text>
<text x="530.8" y="73.6" font-size="10.7">0.25</text>
<text x="530.8" y="119.9" font-size="10.7">0</text>
</g>
<g transform="translate(0,284)">
<g font-weight="bold" font-size="14.6">
<text x="137.0" y="15.9" textLength="18.9" lengthAdjust="spacingAndGlyphs">(c)</text>
<text x="160.4" y="15.9" textLength="29.0" lengthAdjust="spacingAndGlyphs">Corr</text>
<text x="196.0" y="15.9" text-anchor="middle">:</text>
<text x="202.2" y="15.9" textLength="41.7" lengthAdjust="spacingAndGlyphs">SMOS</text>
<text x="248.0" y="15.9" textLength="12.4" lengthAdjust="spacingAndGlyphs">vs</text>
<text x="267.9" y="15.9" textLength="59.1" lengthAdjust="spacingAndGlyphs">GTMBA,</text>
<text x="331.3" y="15.9" textLength="75.5" lengthAdjust="spacingAndGlyphs">Interannual</text>
</g>
<use href="#land"/>
<rect x="28.08" y="23.70" width="485.50" height="92.60" fill="none" stroke="#808080" stroke-width="0.85"/>
<path d="M57.50,116.30 v-4.5 M57.50,23.70 v4.5 M145.78,116.30 v-4.5 M145.78,23.70 v4.5 M234.05,116.30 v-4.5 M234.05,23.70 v4.5 M322.32,116.30 v-4.5 M322.32,23.70 v4.5 M410.59,116.30 v-4.5 M410.59,23.70 v4.5 M498.86,116.30 v-4.5 M498.86,23.70 v4.5 M28.08,47.68 h4.5 M513.58,47.68 h-4.5 M28.08,70.00 h4.5 M513.58,70.00 h-4.5 M28.08,92.32 h4.5 M513.58,92.32 h-4.5" fill="none" stroke="#808080" stroke-width="0.7"/>
<circle cx="50.1" cy="87.8" r="2.75" fill="#ff0500"/>
<circle cx="50.1" cy="81.8" r="2.75" fill="#ff2400"/>
<circle cx="53.1" cy="75.9" r="2.75" fill="#ff6100"/>
<circle cx="64.9" cy="47.7" r="2.75" fill="#9e0000"/>
<circle cx="67.8" cy="87.8" r="2.75" fill="#d10000"/>
<circle cx="67.8" cy="81.8" r="2.75" fill="#b30000"/>
<circle cx="67.8" cy="75.9" r="2.75" fill="#fa0000"/>
<circle cx="67.8" cy="72.2" r="2.75" fill="#ff0500"/>
<circle cx="67.8" cy="70.0" r="2.75" fill="#ff0500"/>
<circle cx="67.8" cy="67.8" r="2.75" fill="#fa0000"/>
<circle cx="67.8" cy="64.1" r="2.75" fill="#e50000"/>
<circle cx="67.8" cy="58.2" r="2.75" fill="#c70000"/>
<circle cx="87.7" cy="87.8" r="2.75" fill="#e50000"/>
<circle cx="87.7" cy="81.8" r="2.75" fill="#b30000"/>
<circle cx="87.7" cy="75.9" r="2.75" fill="#c70000"/>
<circle cx="87.7" cy="72.2" r="2.75" fill="#e50000"/>
<circle cx="87.7" cy="70.0" r="2.75" fill="#fa0000"/>
<circle cx="87.7" cy="67.8" r="2.75" fill="#ff2e00"/>
<circle cx="101.6" cy="72.2" r="2.75" fill="#ff4c00"/>
<circle cx="101.6" cy="70.0" r="2.75" fill="#ff2400"/>
<circle cx="101.6" cy="67.8" r="2.75" fill="#ff0500"/>
<circle cx="101.6" cy="64.1" r="2.75" fill="#fa0000"/>
<circle cx="101.6" cy="58.2" r="2.75" fill="#ff6100"/>
<circle cx="101.6" cy="52.2" r="2.75" fill="#ffc700"/>
<circle cx="101.6" cy="47.7" r="2.75" fill="#e50000"/>
<circle cx="106.1" cy="87.8" r="2.75" fill="#ff1a00"/>
<circle cx="109.0" cy="81.8" r="2.75" fill="#ff0500"/>
<circle cx="109.0" cy="77.4" r="2.75" fill="#e50000"/>
<circle cx="116.4" cy="81.8" r="2.75" fill="#4dffb2"/>
<circle cx="170.8" cy="70.0" r="2.75" fill="#fa0000"/>
<circle cx="170.8" cy="67.1" r="2.75" fill="#e50000"/>
<circle cx="170.8" cy="62.6" r="2.75" fill="#fa0000"/>
<circle cx="170.8" cy="58.2" r="2.75" fill="#d10000"/>
<circle cx="185.5" cy="70.0" r="2.75" fill="#ff0f00"/>
<circle cx="185.5" cy="67.1" r="2.75" fill="#ff2e00"/>
<circle cx="185.5" cy="62.6" r="2.75" fill="#e50000"/>
<circle cx="198.7" cy="77.4" r="2.75" fill="#ff3800"/>
<circle cx="198.7" cy="72.9" r="2.75" fill="#e50000"/>
<circle cx="198.7" cy="70.0" r="2.75" fill="#c70000"/>
<circle cx="198.7" cy="67.1" r="2.75" fill="#e50000"/>
<circle cx="198.7" cy="62.6" r="2.75" fill="#fa0000"/>
<circle cx="198.7" cy="58.2" r="2.75" fill="#e50000"/>
<circle cx="212.0" cy="81.8" r="2.75" fill="#ff6100"/>
<circle cx="212.0" cy="77.4" r="2.75" fill="#ff0500"/>
<circle cx="212.0" cy="72.9" r="2.75" fill="#e50000"/>
<circle cx="212.0" cy="70.0" r="2.75" fill="#bd0000"/>
<circle cx="212.0" cy="67.1" r="2.75" fill="#e50000"/>
<circle cx="212.0" cy="62.6" r="2.75" fill="#fa0000"/>
<circle cx="212.0" cy="58.2" r="2.75" fill="#ff6b00"/>
<circle cx="234.0" cy="81.8" r="2.75" fill="#fa0000"/>
<circle cx="234.0" cy="77.4" r="2.75" fill="#fa0000"/>
<circle cx="234.0" cy="72.9" r="2.75" fill="#fffa00"/>
<circle cx="234.0" cy="70.0" r="2.75" fill="#ff2e00"/>
<circle cx="234.0" cy="67.1" r="2.75" fill="#e50000"/>
<circle cx="234.0" cy="62.6" r="2.75" fill="#ff4c00"/>
<circle cx="234.0" cy="58.2" r="2.75" fill="#c70000"/>
<circle cx="248.8" cy="81.8" r="2.75" fill="#e50000"/>
<circle cx="248.8" cy="77.4" r="2.75" fill="#bd0000"/>
<circle cx="248.8" cy="72.9" r="2.75" fill="#d10000"/>
<circle cx="248.8" cy="70.0" r="2.75" fill="#e50000"/>
<circle cx="248.8" cy="67.1" r="2.75" fill="#e50000"/>
<circle cx="248.8" cy="62.6" r="2.75" fill="#fa0000"/>
<circle cx="248.8" cy="58.2" r="2.75" fill="#a80000"/>
<circle cx="270.8" cy="81.8" r="2.75" fill="#ffb300"/>
<circle cx="270.8" cy="77.4" r="2.75" fill="#ff3800"/>
<circle cx="270.8" cy="72.9" r="2.75" fill="#ff0500"/>
<circle cx="270.8" cy="70.0" r="2.75" fill="#fa0000"/>
<circle cx="270.8" cy="67.1" r="2.75" fill="#fa0000"/>
<circle cx="270.8" cy="62.6" r="2.75" fill="#ff0500"/>
<circle cx="270.8" cy="58.2" r="2.75" fill="#b30000"/>
<circle cx="292.9" cy="77.4" r="2.75" fill="#ff2400"/>
<circle cx="292.9" cy="72.9" r="2.75" fill="#94ff6b"/>
<circle cx="292.9" cy="70.0" r="2.75" fill="#ffb300"/>
<circle cx="292.9" cy="67.1" r="2.75" fill="#ff2400"/>
<circle cx="292.9" cy="62.6" r="2.75" fill="#ff4c00"/>
<circle cx="292.9" cy="56.7" r="2.75" fill="#c70000"/>
<circle cx="315.0" cy="81.8" r="2.75" fill="#e50000"/>
<circle cx="315.0" cy="77.4" r="2.75" fill="#ff4c00"/>
<circle cx="315.0" cy="72.9" r="2.75" fill="#c7ff38"/>
<circle cx="315.0" cy="70.0" r="2.75" fill="#ff6b00"/>
<circle cx="315.0" cy="67.1" r="2.75" fill="#fa0000"/>
<circle cx="315.0" cy="62.6" r="2.75" fill="#c70000"/>
<circle cx="315.0" cy="58.2" r="2.75" fill="#d10000"/>
<circle cx="337.0" cy="81.8" r="2.75" fill="#fffa00"/>
<circle cx="337.0" cy="77.4" r="2.75" fill="#e50000"/>
<circle cx="337.0" cy="72.9" r="2.75" fill="#e50000"/>
<circle cx="337.0" cy="70.0" r="2.75" fill="#ff2400"/>
<circle cx="337.0" cy="67.1" r="2.75" fill="#ff6100"/>
<circle cx="337.0" cy="62.6" r="2.75" fill="#ff2e00"/>
<circle cx="337.0" cy="58.2" r="2.75" fill="#e50000"/>
<circle cx="359.1" cy="81.8" r="2.75" fill="#d10000"/>
<circle cx="359.1" cy="77.4" r="2.75" fill="#e50000"/>
<circle cx="359.1" cy="72.9" r="2.75" fill="#e50000"/>
<circle cx="359.1" cy="70.0" r="2.75" fill="#e50000"/>
<circle cx="359.1" cy="67.1" r="2.75" fill="#e50000"/>
<circle cx="359.1" cy="62.6" r="2.75" fill="#bd0000"/>
<circle cx="359.1" cy="58.2" r="2.75" fill="#e50000"/>
<circle cx="443.0" cy="64.1" r="2.75" fill="#fa0000"/>
<circle cx="443.0" cy="58.2" r="2.75" fill="#b30000"/>
<circle cx="443.0" cy="53.0" r="2.75" fill="#fa0000"/>
<circle cx="443.0" cy="47.7" r="2.75" fill="#ff4c00"/>
<circle cx="443.0" cy="40.0" r="2.75" fill="#ff4c00"/>
<circle cx="447.4" cy="70.0" r="2.75" fill="#ffbd00"/>
<circle cx="448.8" cy="98.5" r="2.75" fill="#ff6b00"/>
<circle cx="451.8" cy="90.8" r="2.75" fill="#ffd100"/>
<circle cx="454.7" cy="81.8" r="2.75" fill="#ff7500"/>
<circle cx="465.0" cy="70.0" r="2.75" fill="#fa0000"/>
<circle cx="465.0" cy="64.1" r="2.75" fill="#e50000"/>
<circle cx="465.0" cy="53.0" r="2.75" fill="#fa0000"/>
<circle cx="465.0" cy="38.4" r="2.75" fill="#ff9400"/>
<circle cx="484.2" cy="84.8" r="2.75" fill="#ff4c00"/>
<circle cx="484.2" cy="78.8" r="2.75" fill="#ff6b00"/>
<circle cx="484.2" cy="70.0" r="2.75" fill="#b30000"/>
<circle cx="498.9" cy="70.0" r="2.75" fill="#bd0000"/>
<text x="58.9" y="126.0" text-anchor="middle" font-size="10.8">60°E</text>
<text x="146.3" y="126.0" text-anchor="middle" font-size="10.8">120°E</text>
<text x="234.7" y="126.0" text-anchor="middle" font-size="10.8">180°W</text>
<text x="322.9" y="126.0" text-anchor="middle" font-size="10.8">120°W</text>
<text x="411.9" y="126.0" text-anchor="middle" font-size="10.8">60°W</text>
<text x="500.4" y="126.0" text-anchor="middle" font-size="10.8">0°</text>
<text x="26.0" y="27.8" text-anchor="end" font-size="10.8">30°N</text>
<text x="26.0" y="51.2" text-anchor="end" font-size="10.8">15°N</text>
<text x="23.9" y="73.5" text-anchor="end" font-size="10.8">0°</text>
<text x="26.0" y="96.3" text-anchor="end" font-size="10.8">15°S</text>
<text x="26.0" y="120.0" text-anchor="end" font-size="10.8">30°S</text>
<rect x="518.1" y="23.70" width="9.4" height="92.60" fill="url(#jet)"/>
<text x="530.8" y="27.3" font-size="10.7">1</text>
<text x="530.8" y="50.4" font-size="10.7">0.5</text>
<text x="530.8" y="73.6" font-size="10.7">0</text>
<text x="530.8" y="96.8" font-size="10.7">-0.5</text>
<text x="530.8" y="119.9" font-size="10.7">-1</text>
</g>
</g>
</svg>
</body></html>
